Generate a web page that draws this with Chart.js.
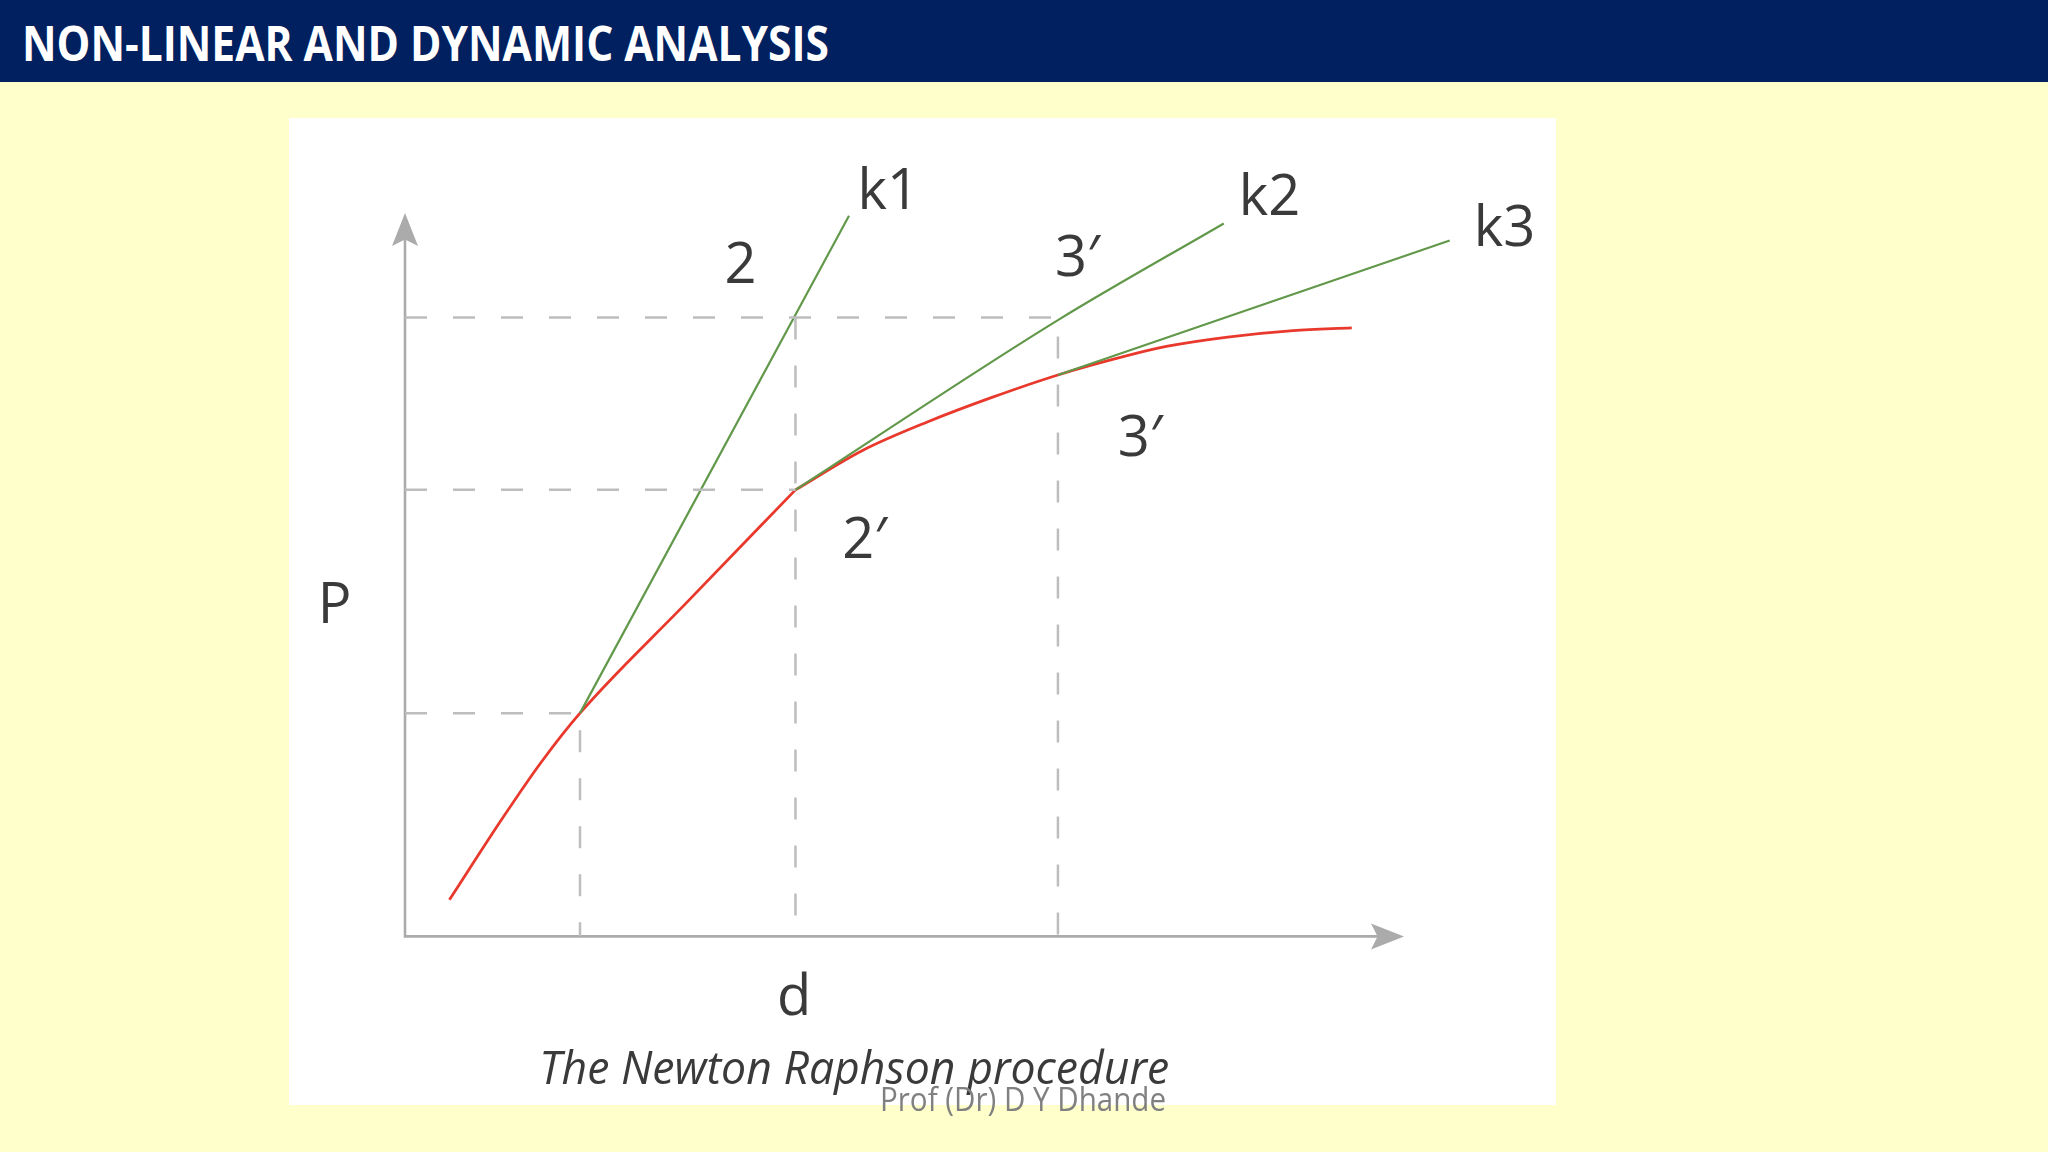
<!DOCTYPE html>
<html>
<head>
<meta charset="utf-8">
<script src="https://cdn.jsdelivr.net/npm/chart.js@4.4.1/dist/chart.umd.min.js"></script>
<style>
  html, body { margin: 0; padding: 0; }
  body { width: 2048px; height: 1152px; background: #ffffcc; position: relative; overflow: hidden; }
  #bar { position: absolute; left: 0; top: 0; width: 2048px; height: 82px; background: #002060; }
  #title { position: absolute; left: 22px; top: 10px; line-height: 82px; font: bold 48px "Open Sans", sans-serif;
           color: #ffffff; white-space: nowrap; transform-origin: 0 50%; }
  #figure { position: absolute; left: 289px; top: 118px; width: 1267px; height: 987px; background: #ffffff; }
  #chart { position: absolute; left: 0; top: 0; }
  #footer { position: absolute; left: 880px; top: 1077px; line-height: 32px; font: 32px "Open Sans", sans-serif;
            color: #808080; white-space: nowrap; transform-origin: 0 50%; }
</style>
</head>
<body>
<div id="bar"><span id="title">NON-LINEAR AND DYNAMIC ANALYSIS</span></div>
<div id="figure"><canvas id="chart" width="1267" height="987"></canvas></div>
<span id="footer">Prof (Dr) D Y Dhande</span>
<script>
// load-displacement curve (d, P); it bends at point 2'
const curveLowD = [0.34, 0.75, 1.04, 1.34, 2.16, 2.99];
const curveLowP = [0.28, 0.91, 1.33, 1.71, 2.56, 3.42];
const curveHighD = [2.99, 3.5, 4.0, 4.5, 5.0, 5.5, 5.84, 6.3, 6.8, 7.25];
const curveHighP = [3.42, 3.72, 3.94, 4.13, 4.30, 4.44, 4.52, 4.59, 4.64, 4.66];

// tangent stiffness lines k1, k2, k3
const k1D = [1.34, 3.40];
const k1P = [1.71, 5.52];
const k2D = [2.99, 5.00, 6.27];
const k2P = [3.42, 4.72, 5.46];
const k3D = [5.00, 8.00];
const k3P = [4.30, 5.33];

// dashed guide lines
const guide1D = [0, 1.34, 1.34];
const guide1P = [1.71, 1.71, 0];
const guide2D = [0, 2.99];
const guide2P = [3.42, 3.42];
const guide3D = [0, 5.00, 5.00];
const guide3P = [4.74, 4.74, 0];
const guide4D = [2.99, 2.99];
const guide4P = [4.74, 0];

// axis arrows end here
const axisEndD = 7.65;
const axisEndP = 5.54;

// labels
const labelText = ['k1', '2', 'k2', '3\u2032', 'k3', '3\u2032', '2\u2032', 'P', 'd'];
const labelD = [3.70, 2.57, 6.62, 5.15, 8.42, 5.63, 3.52, -0.54, 2.98];
const labelP = [5.69, 5.13, 5.65, 5.18, 5.41, 3.80, 3.02, 2.52, -0.48];
const caption = 'The Newton Raphson procedure';

function pts(xs, ys) {
  return xs.map((x, i) => ({ x: x, y: ys[i] }));
}

function guide(xs, ys) {
  return {
    data: pts(xs, ys),
    borderColor: '#bdbdbd',
    borderWidth: 2.5,
    borderDash: [22, 26],
    pointRadius: 0,
    showLine: true,
    tension: 0
  };
}

function curve(xs, ys) {
  return {
    data: pts(xs, ys),
    borderColor: '#e8392c',
    borderWidth: 2.8,
    pointRadius: 0,
    showLine: true,
    cubicInterpolationMode: 'monotone'
  };
}

function arrow(ctx, x, y, dx, dy) {
  const len = 33, half = 13;
  const px = -dy, py = dx;
  ctx.beginPath();
  ctx.moveTo(x, y);
  ctx.lineTo(x - dx * len + px * half, y - dy * len + py * half);
  ctx.lineTo(x - dx * len * 0.8, y - dy * len * 0.8);
  ctx.lineTo(x - dx * len - px * half, y - dy * len - py * half);
  ctx.closePath();
  ctx.fill();
}

const overlay = {
  id: 'overlay',
  beforeDatasetsDraw(chart) {
    const ctx = chart.ctx;
    const sx = chart.scales.x, sy = chart.scales.y;
    const x0 = sx.getPixelForValue(0), y0 = sy.getPixelForValue(0);
    const xe = sx.getPixelForValue(axisEndD), ye = sy.getPixelForValue(axisEndP);
    ctx.save();
    ctx.strokeStyle = '#ababab';
    ctx.fillStyle = '#ababab';
    ctx.lineWidth = 2.6;
    ctx.beginPath();
    ctx.moveTo(x0, ye + 20);
    ctx.lineTo(x0, y0);
    ctx.lineTo(xe - 20, y0);
    ctx.stroke();
    arrow(ctx, x0, ye, 0, -1);
    arrow(ctx, xe, y0, 1, 0);
    ctx.restore();
  },
  afterDatasetsDraw(chart) {
    const ctx = chart.ctx;
    const sx = chart.scales.x, sy = chart.scales.y;
    ctx.save();
    ctx.fillStyle = '#3a3a3a';
    ctx.textAlign = 'center';
    ctx.textBaseline = 'middle';
    ctx.font = '56px "Open Sans", "DejaVu Sans", sans-serif';
    labelText.forEach((t, i) => {
      ctx.fillText(t, sx.getPixelForValue(labelD[i]), sy.getPixelForValue(labelP[i]));
    });
    // caption, squeezed to the width it has in the picture
    ctx.font = 'italic 46px "Open Sans", sans-serif';
    ctx.textBaseline = 'alphabetic';
    const w = ctx.measureText(caption).width;
    ctx.translate(sx.getPixelForValue(3.44), sy.getPixelForValue(-1.13));
    ctx.scale(630 / w, 1);
    ctx.fillText(caption, 0, 0);
    ctx.restore();
  }
};

function fitWidth(id, target) {
  const el = document.getElementById(id);
  el.style.transform = 'none';
  el.style.transform = 'scaleX(' + (target / el.getBoundingClientRect().width) + ')';
}

function draw() {
  fitWidth('title', 807);
  fitWidth('footer', 286);

  new Chart(document.getElementById('chart'), {
    type: 'scatter',
    data: {
      datasets: [
        guide(guide1D, guide1P),
        guide(guide2D, guide2P),
        guide(guide3D, guide3P),
        guide(guide4D, guide4P),
        { data: pts(k1D, k1P), borderColor: '#62984a', borderWidth: 2.2, pointRadius: 0, showLine: true },
        { data: pts(k2D, k2P), borderColor: '#62984a', borderWidth: 2.2, pointRadius: 0, showLine: true, cubicInterpolationMode: 'monotone' },
        { data: pts(k3D, k3P), borderColor: '#62984a', borderWidth: 2.2, pointRadius: 0, showLine: true },
        curve(curveLowD, curveLowP),
        curve(curveHighD, curveHighP)
      ]
    },
    options: {
      responsive: false,
      animation: false,
      layout: { padding: { left: 116, right: 41, top: 35, bottom: 168.6 } },
      plugins: { legend: { display: false }, tooltip: { enabled: false } },
      scales: {
        x: { type: 'linear', min: 0, max: 8.5, display: false },
        y: { type: 'linear', min: 0, max: 6, display: false }
      }
    },
    plugins: [overlay]
  });
}

if (document.fonts && document.fonts.ready) {
  document.fonts.ready.then(draw);
} else {
  draw();
}
</script>
</body>
</html>
